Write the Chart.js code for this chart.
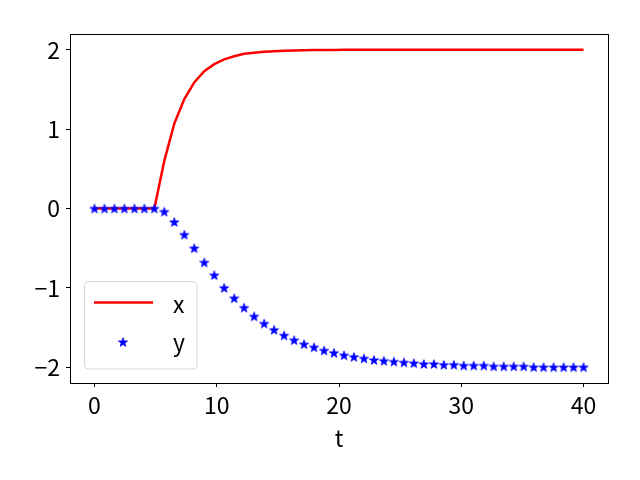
<!DOCTYPE html>
<html>
<head>
<meta charset="utf-8">
<script src="https://cdn.jsdelivr.net/npm/chart.js@4/dist/chart.umd.min.js"></script>
<style>
  html, body { margin: 0; padding: 0; background: #fff; }
  #chart { display: block; }
</style>
</head>
<body>
<canvas id="chart" width="640" height="480"></canvas>
<script>
// sample times (50 points from 0 to 40)
const tValues = [0, 0.82, 1.63, 2.45, 3.27, 4.08, 4.90, 5.71, 6.53, 7.35,
  8.16, 8.98, 9.80, 10.61, 11.43, 12.24, 13.06, 13.88, 14.69, 15.51,
  16.33, 17.14, 17.96, 18.78, 19.59, 20.41, 21.22, 22.04, 22.86, 23.67,
  24.49, 25.31, 26.12, 26.94, 27.76, 28.57, 29.39, 30.20, 31.02, 31.84,
  32.65, 33.47, 34.29, 35.10, 35.92, 36.73, 37.55, 38.37, 39.18, 40];

const xValues = [0, 0, 0, 0, 0, 0, 0, 0.60, 1.07, 1.38,
  1.59, 1.73, 1.82, 1.88, 1.92, 1.95, 1.965, 1.976, 1.984, 1.99,
  1.993, 1.995, 1.997, 1.998, 1.999, 2, 2, 2, 2, 2,
  2, 2, 2, 2, 2, 2, 2, 2, 2, 2,
  2, 2, 2, 2, 2, 2, 2, 2, 2, 2];

const yValues = [0, 0, 0, 0, 0, 0, 0, -0.04, -0.17, -0.33,
  -0.50, -0.68, -0.84, -1.00, -1.13, -1.25, -1.36, -1.45, -1.53, -1.60,
  -1.66, -1.71, -1.75, -1.79, -1.82, -1.85, -1.87, -1.89, -1.91, -1.92,
  -1.93, -1.94, -1.95, -1.96, -1.96, -1.97, -1.97, -1.98, -1.98, -1.98,
  -1.99, -1.99, -1.99, -1.99, -2.00, -2.00, -2.00, -2.00, -2.00, -2.00];

const seriesNames = ['x', 'y'];
const xTicks = [0, 10, 20, 30, 40];
const yTicks = [-2, -1, 0, 1, 2];

const FONT = '"Noto Sans CJK JP", "Noto Sans", sans-serif';

// filled five-point star marker, like matplotlib '*'
function makeStar(R) {
  const size = Math.ceil(R * 2 + 2);
  const c = document.createElement('canvas');
  c.width = size; c.height = size;
  const g = c.getContext('2d');
  const cx = size / 2, cy = size / 2 + R * 0.1;
  const r = R * 0.40;
  g.beginPath();
  for (let i = 0; i < 10; i++) {
    const rad = i % 2 === 0 ? R : r;
    const a = -Math.PI / 2 + i * Math.PI / 5;
    const px = cx + rad * Math.cos(a), py = cy + rad * Math.sin(a);
    if (i === 0) g.moveTo(px, py); else g.lineTo(px, py);
  }
  g.closePath();
  g.fillStyle = '#0000ff';
  g.fill();
  g.strokeStyle = '#0000ff';
  g.lineWidth = 0.8;
  g.stroke();
  return c;
}
const star = makeStar(4.8);

// frame + legend drawn on top
const framePlugin = {
  id: 'frame',
  afterDraw(chart) {
    const { ctx, chartArea: a } = chart;
    ctx.save();
    ctx.strokeStyle = '#000';
    ctx.lineWidth = 1;
    ctx.strokeRect(Math.round(a.left) + 0.5, Math.round(a.top) + 0.5,
      Math.round(a.right - a.left), Math.round(a.bottom - a.top));

    // legend box
    const bx = 84.5, by = 281.5, bw = 112.5, bh = 87.5;
    ctx.beginPath();
    ctx.roundRect(bx, by, bw, bh, 4);
    ctx.fillStyle = 'rgba(255,255,255,0.8)';
    ctx.fill();
    ctx.strokeStyle = '#d6d6d6';
    ctx.stroke();

    ctx.strokeStyle = '#ff0000';
    ctx.lineWidth = 2.5;
    ctx.beginPath();
    ctx.moveTo(94, 302.5);
    ctx.lineTo(153, 302.5);
    ctx.stroke();
    ctx.drawImage(star, 123 - star.width / 2, 342 - star.height / 2);

    ctx.fillStyle = '#000';
    ctx.font = '23px ' + FONT;
    ctx.textBaseline = 'alphabetic';
    ctx.textAlign = 'left';
    ctx.fillText(seriesNames[0], 173, 312.5);
    ctx.fillText(seriesNames[1], 173, 351);
    ctx.restore();
  }
};

new Chart(document.getElementById('chart'), {
  type: 'line',
  data: {
    datasets: [
      {
        label: seriesNames[0],
        data: tValues.map((t, i) => ({ x: t, y: xValues[i] })),
        borderColor: '#ff0000',
        borderWidth: 2.5,
        pointRadius: 0,
        tension: 0,
        fill: false,
        order: 2,
      },
      {
        label: seriesNames[1],
        data: tValues.map((t, i) => ({ x: t, y: yValues[i] })),
        showLine: false,
        pointStyle: star,
        pointRadius: 5,
        pointHoverRadius: 5,
        order: 1,
      },
    ],
  },
  options: {
    responsive: false,
    animation: false,
    events: [],
    layout: { padding: { top: 34, right: 32, left: 0, bottom: 0 } },
    plugins: { legend: { display: false }, tooltip: { enabled: false } },
    scales: {
      x: {
        type: 'linear',
        min: -2,
        max: 42,
        afterBuildTicks: (s) => { s.ticks = xTicks.map((v) => ({ value: v })); },
        afterFit: (s) => { s.height = 97; },
        grid: { display: true, drawOnChartArea: false, drawTicks: true, tickLength: 4, color: '#000' },
        border: { display: true, color: '#000' },
        ticks: { color: '#000', font: { size: 23, family: FONT }, padding: 4, maxRotation: 0 },
        title: { display: true, text: 't', color: '#000', font: { size: 23, family: FONT }, padding: { top: 0, bottom: 28 } },
      },
      y: {
        type: 'linear',
        min: -2.2,
        max: 2.2,
        afterBuildTicks: (s) => { s.ticks = yTicks.map((v) => ({ value: v })); },
        afterFit: (s) => { s.width = 70; },
        grid: { display: true, drawOnChartArea: false, drawTicks: true, tickLength: 4, color: '#000' },
        border: { display: true, color: '#000' },
        ticks: {
          color: '#000',
          font: { size: 23, family: FONT },
          padding: 6,
          callback: (v) => (v < 0 ? '\u2212' + Math.abs(v) : String(v)),
        },
      },
    },
  },
  plugins: [framePlugin],
});
</script>
</body>
</html>
